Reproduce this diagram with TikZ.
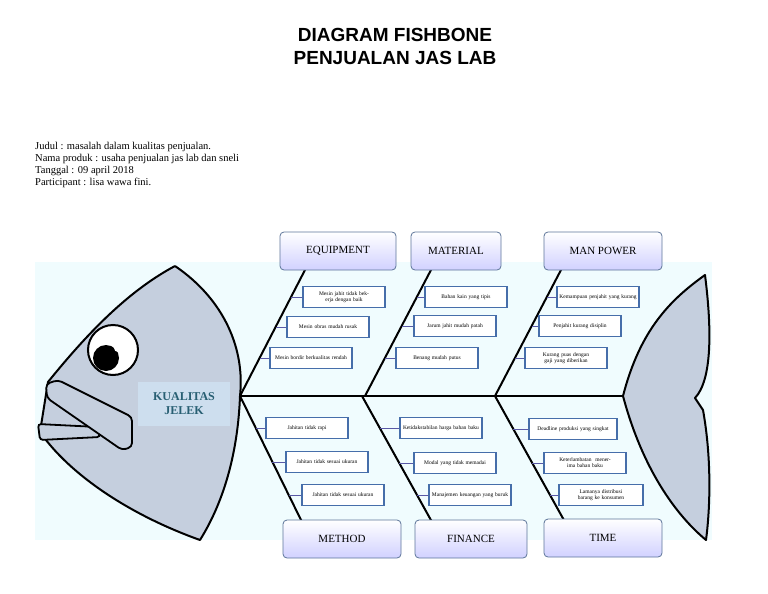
\documentclass[tikz,border=0pt]{standalone}
\usepackage{fontspec}
\setmainfont{Liberation Serif}
\newfontfamily\titlefont{Liberation Sans}
\usetikzlibrary{calc}
\definecolor{bgc}{RGB}{240,252,254}
\definecolor{fishc}{RGB}{197,207,222}
\definecolor{boxb}{RGB}{70,110,170}
\definecolor{tealc}{RGB}{40,95,115}
\definecolor{kbox}{RGB}{205,222,238}
\begin{document}
\begin{tikzpicture}[x=1pt,y=-1pt,
  cat/.style={draw=boxb!60!gray,rounded corners=4pt,top color=white,bottom color=blue!18,minimum width=116pt,minimum height=38pt,font=\fontsize{11}{12}\selectfont,line width=0.8pt},
  sub/.style={draw=boxb,line width=1.1pt,fill=white,minimum width=82pt,minimum height=21pt,text width=78pt,align=center,font=\fontsize{5.5}{6}\selectfont,inner sep=1pt},
  bone/.style={line width=2pt,black},
  conn/.style={draw=gray!70!blue,line width=1pt}]
\useasboundingbox (0,0) rectangle (768,594);
\fill[bgc] (35,262) rectangle (712,540);
\node[font=\titlefont\bfseries\fontsize{19}{23}\selectfont,align=center] (title) at (395,46) {DIAGRAM FISHBONE\\PENJUALAN JAS LAB};
\node[anchor=north west,align=left,font=\fontsize{10.5}{12}\selectfont,inner sep=0] (info) at (35,142) {Judul : masalah dalam kualitas penjualan.\\Nama produk : usaha penjualan jas lab dan sneli\\Tanggal : 09 april 2018\\Participant : lisa wawa fini.};
% tail
\draw[line width=2pt,fill=fishc,line join=round] (623,396) .. controls (640,330) and (670,300) .. (705,275) .. controls (712,330) and (712,380) .. (695,398) -- (703,410) .. controls (712,460) and (710,510) .. (706,540) .. controls (670,510) and (640,460) .. (623,396);
% head
\draw[line width=2pt,fill=fishc,line join=round] (175,266) .. controls (225,300) and (245,350) .. (240,396) .. controls (238,450) and (225,500) .. (200,540) .. controls (130,515) and (70,475) .. (40,432) -- (48,382) .. controls (90,330) and (130,290) .. (175,266);
\draw[line width=1.8pt,fill=fishc,rounded corners=3pt] (38,424) -- (98,427) -- (100,437) -- (40,440) -- cycle;
\draw[line width=1.8pt,fill=fishc,rounded corners=4pt] (46,384) -- (58,380) -- (132,417) -- (132,447) -- (122,450) -- (47,398) -- cycle;
\draw[line width=2pt,fill=white] (113,350) circle (25);
\fill[black] (106,358) circle (13);
\fill[white] (118,348) circle (4);
\node[fill=kbox,minimum width=92pt,minimum height=44pt,align=center,font=\bfseries\fontsize{12}{14}\selectfont,text=tealc] (k) at (184,404) {KUALITAS\\JELEK};
% spine and bones
\coordinate (sp0) at (240,396); \coordinate (sp1) at (623,396);
\draw[bone] (sp0) -- (sp1);
\coordinate (t1a) at (306,268); \coordinate (t1b) at (240,396);
\coordinate (t2a) at (432,268); \coordinate (t2b) at (365,396);
\coordinate (t3a) at (562,268); \coordinate (t3b) at (495,396);
\coordinate (b1a) at (240,396); \coordinate (b1b) at (302,522);
\coordinate (b2a) at (362,396); \coordinate (b2b) at (432,522);
\coordinate (b3a) at (495,396); \coordinate (b3b) at (565,522);
\foreach \ba/\bb in {t1a/t1b,t2a/t2b,t3a/t3b,b1a/b1b,b2a/b2b,b3a/b3b} \draw[bone] (\ba) -- (\bb);
% categories
\node[cat] (eq) at (338,251) {EQUIPMENT};
\node[cat,minimum width=90pt] (ma) at (456,251) {MATERIAL};
\node[cat,minimum width=118pt] (mp) at (603,251) {MAN POWER};
\node[cat,minimum width=118pt] (me) at (342,539) {METHOD};
\node[cat,minimum width=112pt] (fi) at (471,539) {FINANCE};
\node[cat,minimum width=118pt] (ti) at (603,538) {TIME};
% sub boxes
\node[sub] (s11) at (344,297) {Mesin jahit tidak bekerja dengan baik};
\node[sub] (s12) at (328,327) {Mesin obras mudah rusak};
\node[sub] (s13) at (311,358) {Mesin bordir berkualitas rendah};
\node[sub] (s21) at (466,297) {Bahan kain yang tipis};
\node[sub] (s22) at (455,326) {Jarum jahit mudah patah};
\node[sub] (s23) at (437,358) {Benang mudah putus};
\node[sub] (s31) at (598,297) {Kemampuan penjahit yang kurang};
\node[sub] (s32) at (580,326) {Penjahit kurang disiplin};
\node[sub] (s33) at (566,358) {Kurang puas dengan gaji yang diberikan};
\node[sub] (u11) at (307,428) {Jahitan tidak rapi};
\node[sub] (u12) at (327,462) {Jahitan tidak sesuai ukuran};
\node[sub] (u13) at (343,495) {Jahitan tidak sesuai ukuran};
\node[sub] (u21) at (441,428) {Ketidakstabilan harga bahan baku};
\node[sub] (u22) at (455,463) {Modal yang tidak memadai};
\node[sub] (u23) at (470,495) {Manajemen keuangan yang buruk};
\node[sub,minimum width=88pt,text width=86pt] (u31) at (573,429) {Deadline produksi yang singkat};
\node[sub] (u32) at (585,463) {Keterlambatan\ \ menerima bahan baku};
\node[sub,minimum width=84pt,text width=82pt] (u33) at (601,495) {Lamanya distribusi barang ke konsumen};
% connectors
\foreach \bx/\ba/\bb in {s11/t1a/t1b,s12/t1a/t1b,s13/t1a/t1b,s21/t2a/t2b,s22/t2a/t2b,s23/t2a/t2b,s31/t3a/t3b,s32/t3a/t3b,s33/t3a/t3b,u11/b1a/b1b,u12/b1a/b1b,u13/b1a/b1b,u21/b2a/b2b,u22/b2a/b2b,u23/b2a/b2b,u31/b3a/b3b,u32/b3a/b3b,u33/b3a/b3b}
  \draw[conn] let \p1=(\bx.west), \p2=(\ba), \p3=(\bb) in (\p1) -- ({\x2+(\y1-\y2)*(\x3-\x2)/(\y3-\y2)},\y1);
\end{tikzpicture}
\end{document}
